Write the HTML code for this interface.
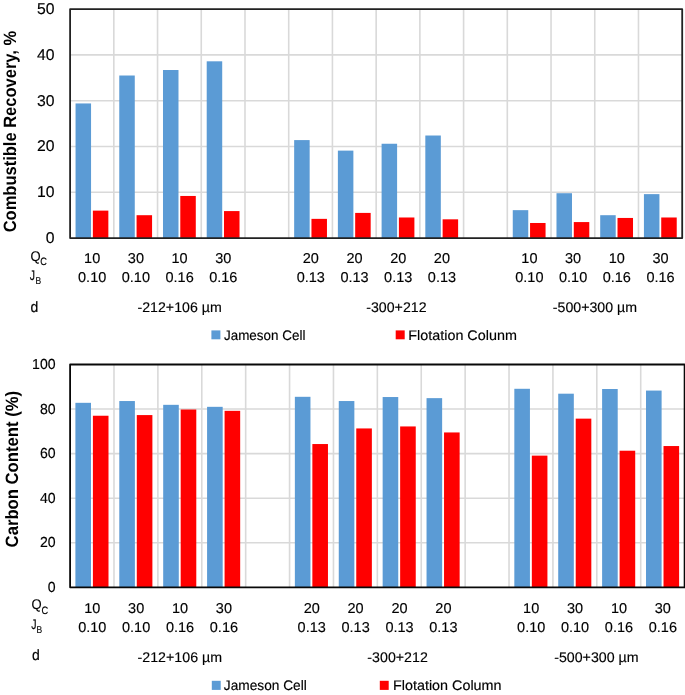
<!DOCTYPE html>
<html><head><meta charset="utf-8"><title>Chart</title>
<style>
html,body{margin:0;padding:0;background:#fff;}
body{width:685px;height:695px;overflow:hidden;}
svg{display:block;will-change:transform;text-rendering:geometricPrecision;font-family:'Liberation Sans', sans-serif;}
text{fill:#000000;stroke:#000000;stroke-width:0.15px;} text[font-weight]{stroke:none;}
</style></head><body>
<svg width="685" height="695" viewBox="0 0 685 695">
<rect width="685" height="695" fill="#fff"/>
<line x1="70.1" y1="192.30" x2="682.2" y2="192.30" stroke="#D9D9D9" stroke-width="1.6"/>
<line x1="70.1" y1="146.50" x2="682.2" y2="146.50" stroke="#D9D9D9" stroke-width="1.6"/>
<line x1="70.1" y1="100.70" x2="682.2" y2="100.70" stroke="#D9D9D9" stroke-width="1.6"/>
<line x1="70.1" y1="54.90" x2="682.2" y2="54.90" stroke="#D9D9D9" stroke-width="1.6"/>
<line x1="113.82" y1="9.1" x2="113.82" y2="238.1" stroke="#D9D9D9" stroke-width="1.6"/>
<line x1="157.54" y1="9.1" x2="157.54" y2="238.1" stroke="#D9D9D9" stroke-width="1.6"/>
<line x1="201.26" y1="9.1" x2="201.26" y2="238.1" stroke="#D9D9D9" stroke-width="1.6"/>
<line x1="244.99" y1="9.1" x2="244.99" y2="238.1" stroke="#D9D9D9" stroke-width="1.6"/>
<line x1="288.71" y1="9.1" x2="288.71" y2="238.1" stroke="#D9D9D9" stroke-width="1.6"/>
<line x1="332.43" y1="9.1" x2="332.43" y2="238.1" stroke="#D9D9D9" stroke-width="1.6"/>
<line x1="376.15" y1="9.1" x2="376.15" y2="238.1" stroke="#D9D9D9" stroke-width="1.6"/>
<line x1="419.87" y1="9.1" x2="419.87" y2="238.1" stroke="#D9D9D9" stroke-width="1.6"/>
<line x1="463.59" y1="9.1" x2="463.59" y2="238.1" stroke="#D9D9D9" stroke-width="1.6"/>
<line x1="507.31" y1="9.1" x2="507.31" y2="238.1" stroke="#D9D9D9" stroke-width="1.6"/>
<line x1="551.04" y1="9.1" x2="551.04" y2="238.1" stroke="#D9D9D9" stroke-width="1.6"/>
<line x1="594.76" y1="9.1" x2="594.76" y2="238.1" stroke="#D9D9D9" stroke-width="1.6"/>
<line x1="638.48" y1="9.1" x2="638.48" y2="238.1" stroke="#D9D9D9" stroke-width="1.6"/>
<rect x="75.55" y="103.45" width="15.50" height="134.65" fill="#5B9BD5"/>
<rect x="92.85" y="210.62" width="15.50" height="27.48" fill="#FF0000"/>
<rect x="119.27" y="75.51" width="15.50" height="162.59" fill="#5B9BD5"/>
<rect x="136.57" y="215.20" width="15.50" height="22.90" fill="#FF0000"/>
<rect x="162.99" y="70.01" width="15.50" height="168.09" fill="#5B9BD5"/>
<rect x="180.29" y="195.96" width="15.50" height="42.14" fill="#FF0000"/>
<rect x="206.71" y="61.31" width="15.50" height="176.79" fill="#5B9BD5"/>
<rect x="224.01" y="211.08" width="15.50" height="27.02" fill="#FF0000"/>
<rect x="294.16" y="140.09" width="15.50" height="98.01" fill="#5B9BD5"/>
<rect x="311.46" y="218.86" width="15.50" height="19.24" fill="#FF0000"/>
<rect x="337.88" y="150.62" width="15.50" height="87.48" fill="#5B9BD5"/>
<rect x="355.18" y="212.91" width="15.50" height="25.19" fill="#FF0000"/>
<rect x="381.60" y="143.75" width="15.50" height="94.35" fill="#5B9BD5"/>
<rect x="398.90" y="217.49" width="15.50" height="20.61" fill="#FF0000"/>
<rect x="425.32" y="135.51" width="15.50" height="102.59" fill="#5B9BD5"/>
<rect x="442.62" y="219.32" width="15.50" height="18.78" fill="#FF0000"/>
<rect x="512.76" y="210.16" width="15.50" height="27.94" fill="#5B9BD5"/>
<rect x="530.06" y="222.99" width="15.50" height="15.11" fill="#FF0000"/>
<rect x="556.49" y="193.22" width="15.50" height="44.88" fill="#5B9BD5"/>
<rect x="573.79" y="222.07" width="15.50" height="16.03" fill="#FF0000"/>
<rect x="600.21" y="215.20" width="15.50" height="22.90" fill="#5B9BD5"/>
<rect x="617.51" y="217.95" width="15.50" height="20.15" fill="#FF0000"/>
<rect x="643.93" y="194.13" width="15.50" height="43.97" fill="#5B9BD5"/>
<rect x="661.23" y="217.49" width="15.50" height="20.61" fill="#FF0000"/>
<rect x="70.1" y="9.1" width="612.10" height="229.00" fill="none" stroke="#222" stroke-width="1.8" stroke-linejoin="round"/>
<text transform="translate(54.50,242.90)" font-size="15.75" text-anchor="end">0</text>
<text transform="translate(54.50,197.10)" font-size="15.75" text-anchor="end">10</text>
<text transform="translate(54.50,151.30)" font-size="15.75" text-anchor="end">20</text>
<text transform="translate(54.50,105.50)" font-size="15.75" text-anchor="end">30</text>
<text transform="translate(54.50,59.70)" font-size="15.75" text-anchor="end">40</text>
<text transform="translate(54.50,13.90)" font-size="15.75" text-anchor="end">50</text>
<text transform="translate(92.16,263.00) scale(1,0.98)" font-size="14.5" text-anchor="middle">10</text>
<text transform="translate(92.16,282.00) scale(1,0.98)" font-size="14.5" text-anchor="middle">0.10</text>
<text transform="translate(135.88,263.00) scale(1,0.98)" font-size="14.5" text-anchor="middle">30</text>
<text transform="translate(135.88,282.00) scale(1,0.98)" font-size="14.5" text-anchor="middle">0.10</text>
<text transform="translate(179.60,263.00) scale(1,0.98)" font-size="14.5" text-anchor="middle">10</text>
<text transform="translate(179.60,282.00) scale(1,0.98)" font-size="14.5" text-anchor="middle">0.16</text>
<text transform="translate(223.32,263.00) scale(1,0.98)" font-size="14.5" text-anchor="middle">30</text>
<text transform="translate(223.32,282.00) scale(1,0.98)" font-size="14.5" text-anchor="middle">0.16</text>
<text transform="translate(310.77,263.00) scale(1,0.98)" font-size="14.5" text-anchor="middle">20</text>
<text transform="translate(310.77,282.00) scale(1,0.98)" font-size="14.5" text-anchor="middle">0.13</text>
<text transform="translate(354.49,263.00) scale(1,0.98)" font-size="14.5" text-anchor="middle">20</text>
<text transform="translate(354.49,282.00) scale(1,0.98)" font-size="14.5" text-anchor="middle">0.13</text>
<text transform="translate(398.21,263.00) scale(1,0.98)" font-size="14.5" text-anchor="middle">20</text>
<text transform="translate(398.21,282.00) scale(1,0.98)" font-size="14.5" text-anchor="middle">0.13</text>
<text transform="translate(441.93,263.00) scale(1,0.98)" font-size="14.5" text-anchor="middle">20</text>
<text transform="translate(441.93,282.00) scale(1,0.98)" font-size="14.5" text-anchor="middle">0.13</text>
<text transform="translate(529.38,263.00) scale(1,0.98)" font-size="14.5" text-anchor="middle">10</text>
<text transform="translate(529.38,282.00) scale(1,0.98)" font-size="14.5" text-anchor="middle">0.10</text>
<text transform="translate(573.10,263.00) scale(1,0.98)" font-size="14.5" text-anchor="middle">30</text>
<text transform="translate(573.10,282.00) scale(1,0.98)" font-size="14.5" text-anchor="middle">0.10</text>
<text transform="translate(616.82,263.00) scale(1,0.98)" font-size="14.5" text-anchor="middle">10</text>
<text transform="translate(616.82,282.00) scale(1,0.98)" font-size="14.5" text-anchor="middle">0.16</text>
<text transform="translate(660.54,263.00) scale(1,0.98)" font-size="14.5" text-anchor="middle">30</text>
<text transform="translate(660.54,282.00) scale(1,0.98)" font-size="14.5" text-anchor="middle">0.16</text>
<text transform="translate(30.60,260.70) scale(0.93,1)" font-size="14">Q</text>
<text transform="translate(40.20,264.60) scale(0.92,1.06)" font-size="10">C</text>
<text transform="translate(29.80,280.00) scale(0.75,1)" font-size="14">J</text>
<text transform="translate(35.60,283.70) scale(0.85,1)" font-size="10">B</text>
<text transform="translate(30.50,311.70) scale(1,1.07)" font-size="14">d</text>
<text transform="translate(179.60,312.30) scale(1.012,1)" font-size="14" text-anchor="middle">-212+106 µm</text>
<text transform="translate(396.40,312.30) scale(1.012,1)" font-size="14" text-anchor="middle">-300+212</text>
<text transform="translate(594.90,312.30) scale(1.012,1)" font-size="14" text-anchor="middle">-500+300 µm</text>
<rect x="211.4" y="330.4" width="9.0" height="8.9" fill="#5B9BD5"/>
<text transform="translate(224.00,339.60) scale(1.01,1.04)" font-size="13.3">Jameson Cell</text>
<rect x="395.7" y="330.4" width="9.0" height="8.9" fill="#FF0000"/>
<text transform="translate(408.30,339.60) scale(1.08,1.04)" font-size="13.3">Flotation Colunm</text>
<text transform="translate(15.50,232.30) rotate(-90) scale(1,1.08)" font-size="16.5" font-weight="bold">Combustible Recovery, %</text>
<line x1="70.1" y1="542.74" x2="684.6" y2="542.74" stroke="#D9D9D9" stroke-width="1.6"/>
<line x1="70.1" y1="498.18" x2="684.6" y2="498.18" stroke="#D9D9D9" stroke-width="1.6"/>
<line x1="70.1" y1="453.62" x2="684.6" y2="453.62" stroke="#D9D9D9" stroke-width="1.6"/>
<line x1="70.1" y1="409.06" x2="684.6" y2="409.06" stroke="#D9D9D9" stroke-width="1.6"/>
<line x1="113.99" y1="364.5" x2="113.99" y2="587.3" stroke="#D9D9D9" stroke-width="1.6"/>
<line x1="157.89" y1="364.5" x2="157.89" y2="587.3" stroke="#D9D9D9" stroke-width="1.6"/>
<line x1="201.78" y1="364.5" x2="201.78" y2="587.3" stroke="#D9D9D9" stroke-width="1.6"/>
<line x1="245.67" y1="364.5" x2="245.67" y2="587.3" stroke="#D9D9D9" stroke-width="1.6"/>
<line x1="289.56" y1="364.5" x2="289.56" y2="587.3" stroke="#D9D9D9" stroke-width="1.6"/>
<line x1="333.46" y1="364.5" x2="333.46" y2="587.3" stroke="#D9D9D9" stroke-width="1.6"/>
<line x1="377.35" y1="364.5" x2="377.35" y2="587.3" stroke="#D9D9D9" stroke-width="1.6"/>
<line x1="421.24" y1="364.5" x2="421.24" y2="587.3" stroke="#D9D9D9" stroke-width="1.6"/>
<line x1="465.14" y1="364.5" x2="465.14" y2="587.3" stroke="#D9D9D9" stroke-width="1.6"/>
<line x1="509.03" y1="364.5" x2="509.03" y2="587.3" stroke="#D9D9D9" stroke-width="1.6"/>
<line x1="552.92" y1="364.5" x2="552.92" y2="587.3" stroke="#D9D9D9" stroke-width="1.6"/>
<line x1="596.81" y1="364.5" x2="596.81" y2="587.3" stroke="#D9D9D9" stroke-width="1.6"/>
<line x1="640.71" y1="364.5" x2="640.71" y2="587.3" stroke="#D9D9D9" stroke-width="1.6"/>
<rect x="75.40" y="402.82" width="15.60" height="184.48" fill="#5B9BD5"/>
<rect x="92.90" y="415.74" width="15.60" height="171.56" fill="#FF0000"/>
<rect x="119.29" y="401.04" width="15.60" height="186.26" fill="#5B9BD5"/>
<rect x="136.79" y="415.08" width="15.60" height="172.22" fill="#FF0000"/>
<rect x="163.19" y="404.83" width="15.60" height="182.47" fill="#5B9BD5"/>
<rect x="180.69" y="409.51" width="15.60" height="177.79" fill="#FF0000"/>
<rect x="207.08" y="406.83" width="15.60" height="180.47" fill="#5B9BD5"/>
<rect x="224.58" y="410.84" width="15.60" height="176.46" fill="#FF0000"/>
<rect x="294.86" y="396.81" width="15.60" height="190.49" fill="#5B9BD5"/>
<rect x="312.36" y="444.04" width="15.60" height="143.26" fill="#FF0000"/>
<rect x="338.76" y="401.04" width="15.60" height="186.26" fill="#5B9BD5"/>
<rect x="356.26" y="428.44" width="15.60" height="158.86" fill="#FF0000"/>
<rect x="382.65" y="397.03" width="15.60" height="190.27" fill="#5B9BD5"/>
<rect x="400.15" y="426.44" width="15.60" height="160.86" fill="#FF0000"/>
<rect x="426.54" y="398.14" width="15.60" height="189.16" fill="#5B9BD5"/>
<rect x="444.04" y="432.45" width="15.60" height="154.85" fill="#FF0000"/>
<rect x="514.33" y="388.79" width="15.60" height="198.51" fill="#5B9BD5"/>
<rect x="531.83" y="455.63" width="15.60" height="131.67" fill="#FF0000"/>
<rect x="558.22" y="393.69" width="15.60" height="193.61" fill="#5B9BD5"/>
<rect x="575.72" y="418.64" width="15.60" height="168.66" fill="#FF0000"/>
<rect x="602.11" y="389.01" width="15.60" height="198.29" fill="#5B9BD5"/>
<rect x="619.61" y="450.72" width="15.60" height="136.58" fill="#FF0000"/>
<rect x="646.01" y="390.57" width="15.60" height="196.73" fill="#5B9BD5"/>
<rect x="663.51" y="446.04" width="15.60" height="141.26" fill="#FF0000"/>
<rect x="70.1" y="364.5" width="614.50" height="222.80" fill="none" stroke="#080808" stroke-width="1.8" stroke-linejoin="round"/>
<text transform="translate(55.60,591.80) scale(1,1.03)" font-size="14.1" text-anchor="end">0</text>
<text transform="translate(55.60,547.24) scale(1,1.03)" font-size="14.1" text-anchor="end">20</text>
<text transform="translate(55.60,502.68) scale(1,1.03)" font-size="14.1" text-anchor="end">40</text>
<text transform="translate(55.60,458.12) scale(1,1.03)" font-size="14.1" text-anchor="end">60</text>
<text transform="translate(55.60,413.56) scale(1,1.03)" font-size="14.1" text-anchor="end">80</text>
<text transform="translate(55.60,369.00) scale(1,1.03)" font-size="14.1" text-anchor="end">100</text>
<text transform="translate(92.25,613.00) scale(1,0.98)" font-size="14.5" text-anchor="middle">10</text>
<text transform="translate(92.25,632.00) scale(1,0.98)" font-size="14.5" text-anchor="middle">0.10</text>
<text transform="translate(136.14,613.00) scale(1,0.98)" font-size="14.5" text-anchor="middle">30</text>
<text transform="translate(136.14,632.00) scale(1,0.98)" font-size="14.5" text-anchor="middle">0.10</text>
<text transform="translate(180.03,613.00) scale(1,0.98)" font-size="14.5" text-anchor="middle">10</text>
<text transform="translate(180.03,632.00) scale(1,0.98)" font-size="14.5" text-anchor="middle">0.16</text>
<text transform="translate(223.92,613.00) scale(1,0.98)" font-size="14.5" text-anchor="middle">30</text>
<text transform="translate(223.92,632.00) scale(1,0.98)" font-size="14.5" text-anchor="middle">0.16</text>
<text transform="translate(311.71,613.00) scale(1,0.98)" font-size="14.5" text-anchor="middle">20</text>
<text transform="translate(311.71,632.00) scale(1,0.98)" font-size="14.5" text-anchor="middle">0.13</text>
<text transform="translate(355.60,613.00) scale(1,0.98)" font-size="14.5" text-anchor="middle">20</text>
<text transform="translate(355.60,632.00) scale(1,0.98)" font-size="14.5" text-anchor="middle">0.13</text>
<text transform="translate(399.50,613.00) scale(1,0.98)" font-size="14.5" text-anchor="middle">20</text>
<text transform="translate(399.50,632.00) scale(1,0.98)" font-size="14.5" text-anchor="middle">0.13</text>
<text transform="translate(443.39,613.00) scale(1,0.98)" font-size="14.5" text-anchor="middle">20</text>
<text transform="translate(443.39,632.00) scale(1,0.98)" font-size="14.5" text-anchor="middle">0.13</text>
<text transform="translate(531.18,613.00) scale(1,0.98)" font-size="14.5" text-anchor="middle">10</text>
<text transform="translate(531.18,632.00) scale(1,0.98)" font-size="14.5" text-anchor="middle">0.10</text>
<text transform="translate(575.07,613.00) scale(1,0.98)" font-size="14.5" text-anchor="middle">30</text>
<text transform="translate(575.07,632.00) scale(1,0.98)" font-size="14.5" text-anchor="middle">0.10</text>
<text transform="translate(618.96,613.00) scale(1,0.98)" font-size="14.5" text-anchor="middle">10</text>
<text transform="translate(618.96,632.00) scale(1,0.98)" font-size="14.5" text-anchor="middle">0.16</text>
<text transform="translate(662.85,613.00) scale(1,0.98)" font-size="14.5" text-anchor="middle">30</text>
<text transform="translate(662.85,632.00) scale(1,0.98)" font-size="14.5" text-anchor="middle">0.16</text>
<text transform="translate(31.60,609.10) scale(0.93,1)" font-size="14">Q</text>
<text transform="translate(41.40,613.80) scale(0.92,1.06)" font-size="10">C</text>
<text transform="translate(31.30,629.00) scale(0.75,1)" font-size="14">J</text>
<text transform="translate(36.60,632.70) scale(0.85,1)" font-size="10">B</text>
<text transform="translate(32.00,660.10) scale(1,1.07)" font-size="14">d</text>
<text transform="translate(179.80,661.50) scale(1.015,1)" font-size="14" text-anchor="middle">-212+106 µm</text>
<text transform="translate(397.60,661.50) scale(1.015,1)" font-size="14" text-anchor="middle">-300+212</text>
<text transform="translate(596.40,661.50) scale(1.015,1)" font-size="14" text-anchor="middle">-500+300 µm</text>
<rect x="211.8" y="680.8" width="8.9" height="9.1" fill="#5B9BD5"/>
<text transform="translate(223.80,690.30) scale(1.03,1.04)" font-size="13.3">Jameson Cell</text>
<rect x="379.8" y="680.8" width="8.9" height="9.1" fill="#FF0000"/>
<text transform="translate(393.00,690.30) scale(1.08,1.04)" font-size="13.3">Flotation Column</text>
<text transform="translate(17.50,547.40) rotate(-90) scale(1.01,1.08)" font-size="16.5" font-weight="bold">Carbon Content (%)</text>
</svg>
</body></html>
